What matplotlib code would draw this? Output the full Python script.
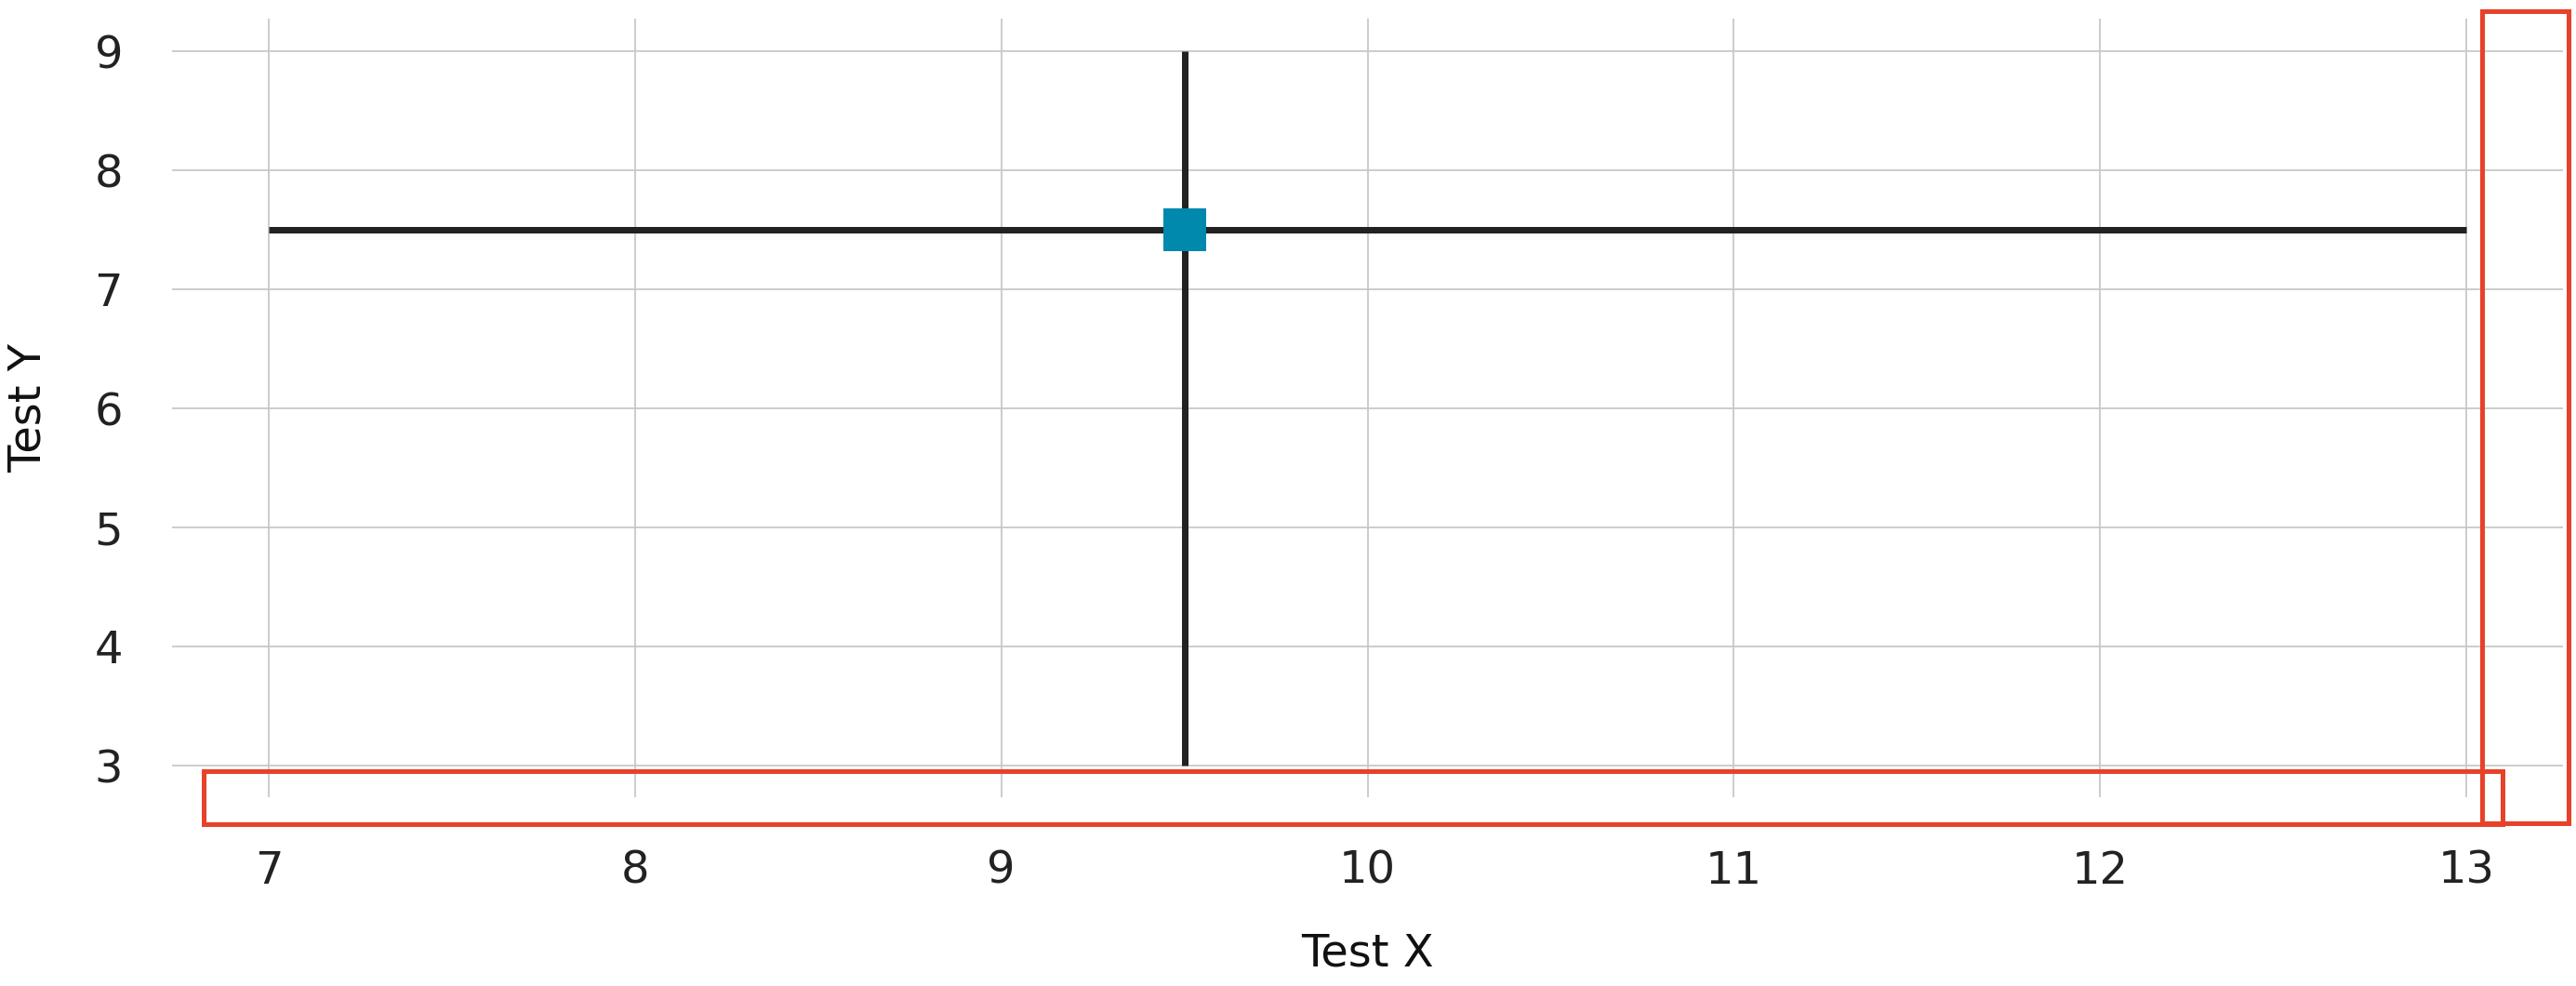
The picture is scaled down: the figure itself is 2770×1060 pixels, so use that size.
import matplotlib
matplotlib.use("Agg")
import matplotlib.pyplot as plt
from matplotlib.patches import Rectangle

# ---- data ----
point_x = [9.5]
point_y = [7.5]
x_low = [7.0]
x_high = [13.0]
y_low = [3.0]
y_high = [9.0]
x_ticks = [7, 8, 9, 10, 11, 12, 13]
y_ticks = [3, 4, 5, 6, 7, 8, 9]
x_title = "Test X"
y_title = "Test Y"

W, H, DPI = 2770, 1060, 100
PT = 72.0 / DPI  # points per pixel

plt.rcParams['font.family'] = ['DejaVu Sans']
fig = plt.figure(figsize=(W / DPI, H / DPI), dpi=DPI)
fig.patch.set_facecolor('white')
ax = fig.add_axes([185 / W, 1 - 857 / H, (2756 - 185) / W, (857 - 20) / H])

ax.set_xlim(6.736, 13.264)
ax.set_ylim(2.734, 9.271)
for s in ax.spines.values():
    s.set_visible(False)

ax.set_xticks(x_ticks)
ax.set_yticks(y_ticks)
ax.set_xticklabels([str(t) for t in x_ticks])
ax.set_yticklabels([str(t) for t in y_ticks])
ax.tick_params(axis='both', length=0, labelsize=48 * PT, labelcolor='#222222')
ax.tick_params(axis='x', pad=56 * PT)
ax.tick_params(axis='y', pad=53 * PT)
ax.grid(True, color='#c8c8c8', linewidth=1.8 * PT)
ax.set_axisbelow(True)

# crosshair (error bars) + marker
xerr = [[px - lo for px, lo in zip(point_x, x_low)], [hi - px for px, hi in zip(point_x, x_high)]]
yerr = [[py - lo for py, lo in zip(point_y, y_low)], [hi - py for py, hi in zip(point_y, y_high)]]
ax.errorbar(point_x, point_y, xerr=xerr, yerr=yerr, fmt='none',
            ecolor='#222222', elinewidth=7 * PT, capsize=0, zorder=3)
ax.plot(point_x, point_y, linestyle='none', marker='s', markersize=47 * PT,
        markerfacecolor='#0088ad', markeredgewidth=0, zorder=4)

# red highlight boxes
red = '#e8412a'
ax.add_patch(Rectangle((6.822, 2.508), 13.0995 - 6.822, 2.949 - 2.508, fill=False,
                       edgecolor=red, linewidth=5 * PT, clip_on=False, zorder=5))
ax.add_patch(Rectangle((13.0437, 2.516), 13.278 - 13.0437, 9.33 - 2.516, fill=False,
                       edgecolor=red, linewidth=5 * PT, clip_on=False, zorder=5))

ax.set_xlabel(x_title, fontsize=48 * PT, color='#111111')
ax.set_ylabel(y_title, fontsize=48 * PT, color='#111111')
ax.xaxis.set_label_coords(0.5, -(1025 - 857) / 837)
ax.xaxis.label.set_va('center')
ax.yaxis.set_label_coords((30 - 185) / 2571, 0.5)
ax.yaxis.label.set_va('center')
ax.yaxis.label.set_ha('center')

fig.savefig('out.png', dpi=DPI, facecolor='white')
